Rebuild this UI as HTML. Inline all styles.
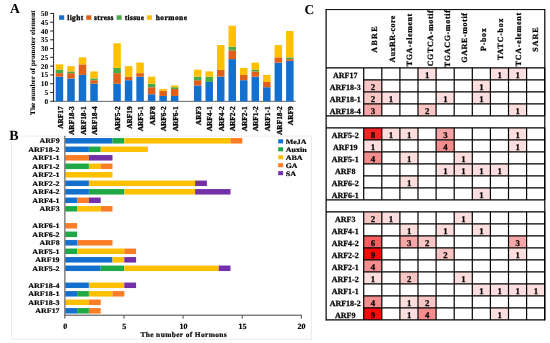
<!DOCTYPE html>
<html><head><meta charset="utf-8"><style>
html,body{margin:0;padding:0;background:#fff;}
body{width:550px;height:343px;overflow:hidden;}
svg{display:block;font-family:"Liberation Serif", serif;font-weight:bold;filter:blur(0.3px);} text{stroke:#000;stroke-width:0.2px;text-rendering:geometricPrecision;} .ns{stroke:none;} .lt{stroke-width:0.06px;} .hv{stroke-width:0.3px;} .ts{stroke-width:0.25px;}
</style></head><body>
<svg width="550" height="343" viewBox="0 0 550 343">
<text x="9.90" y="12.90" font-size="13.6" text-anchor="start" class="ns" fill="#000">A</text>
<text transform="translate(35.00,62.70) rotate(-90)" font-size="7.0" text-anchor="middle" textLength="104.60" lengthAdjust="spacingAndGlyphs" class="lt" fill="#000">The number of promoter element</text>
<line x1="53.60" y1="13.00" x2="53.60" y2="101.75" stroke="#222" stroke-width="1"/>
<line x1="53.10" y1="101.35" x2="295.70" y2="101.35" stroke="#555" stroke-width="0.9"/>
<line x1="50.20" y1="101.25" x2="53.60" y2="101.25" stroke="#222" stroke-width="1"/>
<text x="48.10" y="103.75" font-size="7.4" text-anchor="end" class="lt" fill="#000">0</text>
<line x1="50.20" y1="92.47" x2="53.60" y2="92.47" stroke="#222" stroke-width="1"/>
<text x="48.10" y="94.97" font-size="7.4" text-anchor="end" class="lt" fill="#000">5</text>
<line x1="50.20" y1="83.69" x2="53.60" y2="83.69" stroke="#222" stroke-width="1"/>
<text x="48.10" y="86.19" font-size="7.4" text-anchor="end" class="lt" fill="#000">10</text>
<line x1="50.20" y1="74.91" x2="53.60" y2="74.91" stroke="#222" stroke-width="1"/>
<text x="48.10" y="77.41" font-size="7.4" text-anchor="end" class="lt" fill="#000">15</text>
<line x1="50.20" y1="66.13" x2="53.60" y2="66.13" stroke="#222" stroke-width="1"/>
<text x="48.10" y="68.63" font-size="7.4" text-anchor="end" class="lt" fill="#000">20</text>
<line x1="50.20" y1="57.35" x2="53.60" y2="57.35" stroke="#222" stroke-width="1"/>
<text x="48.10" y="59.85" font-size="7.4" text-anchor="end" class="lt" fill="#000">25</text>
<line x1="50.20" y1="48.57" x2="53.60" y2="48.57" stroke="#222" stroke-width="1"/>
<text x="48.10" y="51.07" font-size="7.4" text-anchor="end" class="lt" fill="#000">30</text>
<line x1="50.20" y1="39.79" x2="53.60" y2="39.79" stroke="#222" stroke-width="1"/>
<text x="48.10" y="42.29" font-size="7.4" text-anchor="end" class="lt" fill="#000">35</text>
<line x1="50.20" y1="31.01" x2="53.60" y2="31.01" stroke="#222" stroke-width="1"/>
<text x="48.10" y="33.51" font-size="7.4" text-anchor="end" class="lt" fill="#000">40</text>
<line x1="50.20" y1="22.23" x2="53.60" y2="22.23" stroke="#222" stroke-width="1"/>
<text x="48.10" y="24.73" font-size="7.4" text-anchor="end" class="lt" fill="#000">45</text>
<line x1="50.20" y1="13.45" x2="53.60" y2="13.45" stroke="#222" stroke-width="1"/>
<text x="48.10" y="15.95" font-size="7.4" text-anchor="end" class="lt" fill="#000">50</text>
<rect x="55.70" y="76.67" width="7.50" height="24.58" fill="#1370cf"/>
<rect x="55.70" y="73.15" width="7.50" height="3.51" fill="#e0601a"/>
<rect x="55.70" y="69.64" width="7.50" height="3.51" fill="#4aaa48"/>
<rect x="55.70" y="64.37" width="7.50" height="5.27" fill="#ffc000"/>
<text transform="translate(62.65,106.40) rotate(-90)" font-size="7.6" text-anchor="end" textLength="22.46" lengthAdjust="spacingAndGlyphs" class="hv" fill="#000">ARF17</text>
<rect x="67.22" y="78.42" width="7.50" height="22.83" fill="#1370cf"/>
<rect x="67.22" y="73.15" width="7.50" height="5.27" fill="#e0601a"/>
<rect x="67.22" y="71.40" width="7.50" height="1.76" fill="#4aaa48"/>
<rect x="67.22" y="66.13" width="7.50" height="5.27" fill="#ffc000"/>
<text transform="translate(74.17,106.40) rotate(-90)" font-size="7.6" text-anchor="end" textLength="28.58" lengthAdjust="spacingAndGlyphs" class="hv" fill="#000">ARF18-3</text>
<rect x="78.74" y="74.91" width="7.50" height="26.34" fill="#1370cf"/>
<rect x="78.74" y="64.37" width="7.50" height="10.54" fill="#e0601a"/>
<rect x="78.74" y="57.35" width="7.50" height="7.02" fill="#ffc000"/>
<text transform="translate(85.69,106.40) rotate(-90)" font-size="7.6" text-anchor="end" textLength="28.58" lengthAdjust="spacingAndGlyphs" class="hv" fill="#000">ARF18-1</text>
<rect x="90.26" y="83.69" width="7.50" height="17.56" fill="#1370cf"/>
<rect x="90.26" y="80.18" width="7.50" height="3.51" fill="#e0601a"/>
<rect x="90.26" y="78.42" width="7.50" height="1.76" fill="#4aaa48"/>
<rect x="90.26" y="71.40" width="7.50" height="7.02" fill="#ffc000"/>
<text transform="translate(97.21,106.40) rotate(-90)" font-size="7.6" text-anchor="end" textLength="28.58" lengthAdjust="spacingAndGlyphs" class="hv" fill="#000">ARF18-4</text>
<rect x="113.30" y="83.69" width="7.50" height="17.56" fill="#1370cf"/>
<rect x="113.30" y="73.15" width="7.50" height="10.54" fill="#e0601a"/>
<rect x="113.30" y="67.89" width="7.50" height="5.27" fill="#4aaa48"/>
<rect x="113.30" y="43.30" width="7.50" height="24.58" fill="#ffc000"/>
<text transform="translate(120.25,106.40) rotate(-90)" font-size="7.6" text-anchor="end" textLength="24.90" lengthAdjust="spacingAndGlyphs" class="hv" fill="#000">ARF5-2</text>
<rect x="124.82" y="80.18" width="7.50" height="21.07" fill="#1370cf"/>
<rect x="124.82" y="76.67" width="7.50" height="3.51" fill="#e0601a"/>
<rect x="124.82" y="66.13" width="7.50" height="10.54" fill="#ffc000"/>
<text transform="translate(131.77,106.40) rotate(-90)" font-size="7.6" text-anchor="end" textLength="22.46" lengthAdjust="spacingAndGlyphs" class="hv" fill="#000">ARF19</text>
<rect x="136.34" y="76.67" width="7.50" height="24.58" fill="#1370cf"/>
<rect x="136.34" y="73.15" width="7.50" height="3.51" fill="#e0601a"/>
<rect x="136.34" y="62.62" width="7.50" height="10.54" fill="#ffc000"/>
<text transform="translate(143.29,106.40) rotate(-90)" font-size="7.6" text-anchor="end" textLength="24.90" lengthAdjust="spacingAndGlyphs" class="hv" fill="#000">ARF5-1</text>
<rect x="147.86" y="94.23" width="7.50" height="7.02" fill="#1370cf"/>
<rect x="147.86" y="87.20" width="7.50" height="7.02" fill="#e0601a"/>
<rect x="147.86" y="83.69" width="7.50" height="3.51" fill="#4aaa48"/>
<rect x="147.86" y="76.67" width="7.50" height="7.02" fill="#ffc000"/>
<text transform="translate(154.81,106.40) rotate(-90)" font-size="7.6" text-anchor="end" textLength="18.78" lengthAdjust="spacingAndGlyphs" class="hv" fill="#000">ARF8</text>
<rect x="159.38" y="95.98" width="7.50" height="5.27" fill="#1370cf"/>
<rect x="159.38" y="90.71" width="7.50" height="5.27" fill="#e0601a"/>
<rect x="159.38" y="88.96" width="7.50" height="1.76" fill="#ffc000"/>
<text transform="translate(166.33,106.40) rotate(-90)" font-size="7.6" text-anchor="end" textLength="24.90" lengthAdjust="spacingAndGlyphs" class="hv" fill="#000">ARF6-2</text>
<rect x="170.90" y="95.98" width="7.50" height="5.27" fill="#1370cf"/>
<rect x="170.90" y="88.96" width="7.50" height="7.02" fill="#e0601a"/>
<rect x="170.90" y="87.20" width="7.50" height="1.76" fill="#4aaa48"/>
<rect x="170.90" y="85.45" width="7.50" height="1.76" fill="#ffc000"/>
<text transform="translate(177.85,106.40) rotate(-90)" font-size="7.6" text-anchor="end" textLength="24.90" lengthAdjust="spacingAndGlyphs" class="hv" fill="#000">ARF6-1</text>
<rect x="193.94" y="85.45" width="7.50" height="15.80" fill="#1370cf"/>
<rect x="193.94" y="80.18" width="7.50" height="5.27" fill="#e0601a"/>
<rect x="193.94" y="76.67" width="7.50" height="3.51" fill="#4aaa48"/>
<rect x="193.94" y="69.64" width="7.50" height="7.02" fill="#ffc000"/>
<text transform="translate(200.89,106.40) rotate(-90)" font-size="7.6" text-anchor="end" textLength="18.78" lengthAdjust="spacingAndGlyphs" class="hv" fill="#000">ARF3</text>
<rect x="205.46" y="81.93" width="7.50" height="19.32" fill="#1370cf"/>
<rect x="205.46" y="76.67" width="7.50" height="5.27" fill="#4aaa48"/>
<rect x="205.46" y="71.40" width="7.50" height="5.27" fill="#ffc000"/>
<text transform="translate(212.41,106.40) rotate(-90)" font-size="7.6" text-anchor="end" textLength="24.90" lengthAdjust="spacingAndGlyphs" class="hv" fill="#000">ARF4-1</text>
<rect x="216.98" y="76.67" width="7.50" height="24.58" fill="#1370cf"/>
<rect x="216.98" y="69.64" width="7.50" height="7.02" fill="#e0601a"/>
<rect x="216.98" y="45.06" width="7.50" height="24.58" fill="#ffc000"/>
<text transform="translate(223.93,106.40) rotate(-90)" font-size="7.6" text-anchor="end" textLength="24.90" lengthAdjust="spacingAndGlyphs" class="hv" fill="#000">ARF4-2</text>
<rect x="228.50" y="59.11" width="7.50" height="42.14" fill="#1370cf"/>
<rect x="228.50" y="50.33" width="7.50" height="8.78" fill="#e0601a"/>
<rect x="228.50" y="46.81" width="7.50" height="3.51" fill="#4aaa48"/>
<rect x="228.50" y="25.74" width="7.50" height="21.07" fill="#ffc000"/>
<text transform="translate(235.45,106.40) rotate(-90)" font-size="7.6" text-anchor="end" textLength="24.90" lengthAdjust="spacingAndGlyphs" class="hv" fill="#000">ARF2-2</text>
<rect x="240.02" y="80.18" width="7.50" height="21.07" fill="#1370cf"/>
<rect x="240.02" y="74.91" width="7.50" height="5.27" fill="#e0601a"/>
<rect x="240.02" y="67.89" width="7.50" height="7.02" fill="#ffc000"/>
<text transform="translate(246.97,106.40) rotate(-90)" font-size="7.6" text-anchor="end" textLength="24.90" lengthAdjust="spacingAndGlyphs" class="hv" fill="#000">ARF2-1</text>
<rect x="251.54" y="76.67" width="7.50" height="24.58" fill="#1370cf"/>
<rect x="251.54" y="71.40" width="7.50" height="5.27" fill="#e0601a"/>
<rect x="251.54" y="69.64" width="7.50" height="1.76" fill="#4aaa48"/>
<rect x="251.54" y="62.62" width="7.50" height="7.02" fill="#ffc000"/>
<text transform="translate(258.49,106.40) rotate(-90)" font-size="7.6" text-anchor="end" textLength="24.90" lengthAdjust="spacingAndGlyphs" class="hv" fill="#000">ARF1-2</text>
<rect x="263.06" y="87.20" width="7.50" height="14.05" fill="#1370cf"/>
<rect x="263.06" y="81.93" width="7.50" height="5.27" fill="#e0601a"/>
<rect x="263.06" y="74.91" width="7.50" height="7.02" fill="#ffc000"/>
<text transform="translate(270.01,106.40) rotate(-90)" font-size="7.6" text-anchor="end" textLength="24.90" lengthAdjust="spacingAndGlyphs" class="hv" fill="#000">ARF1-1</text>
<rect x="274.58" y="62.62" width="7.50" height="38.63" fill="#1370cf"/>
<rect x="274.58" y="57.35" width="7.50" height="5.27" fill="#e0601a"/>
<rect x="274.58" y="45.06" width="7.50" height="12.29" fill="#ffc000"/>
<text transform="translate(281.53,106.40) rotate(-90)" font-size="7.6" text-anchor="end" textLength="28.58" lengthAdjust="spacingAndGlyphs" class="hv" fill="#000">ARF18-2</text>
<rect x="286.10" y="60.86" width="7.50" height="40.39" fill="#1370cf"/>
<rect x="286.10" y="59.11" width="7.50" height="1.76" fill="#e0601a"/>
<rect x="286.10" y="57.35" width="7.50" height="1.76" fill="#4aaa48"/>
<rect x="286.10" y="31.01" width="7.50" height="26.34" fill="#ffc000"/>
<text transform="translate(293.05,106.40) rotate(-90)" font-size="7.6" text-anchor="end" textLength="18.78" lengthAdjust="spacingAndGlyphs" class="hv" fill="#000">ARF9</text>
<rect x="59.10" y="15.30" width="5.10" height="4.50" fill="#1370cf"/>
<text x="67.20" y="20.40" font-size="7.4" text-anchor="start" textLength="16.00" lengthAdjust="spacing" class="hv" fill="#000">light</text>
<rect x="86.20" y="15.30" width="5.10" height="4.50" fill="#e0601a"/>
<text x="94.10" y="20.40" font-size="7.4" text-anchor="start" textLength="19.40" lengthAdjust="spacing" class="hv" fill="#000">stress</text>
<rect x="116.60" y="15.30" width="5.10" height="4.50" fill="#4aaa48"/>
<text x="124.70" y="20.40" font-size="7.4" text-anchor="start" textLength="19.40" lengthAdjust="spacing" class="hv" fill="#000">tissue</text>
<rect x="146.90" y="15.30" width="5.10" height="4.50" fill="#ffc000"/>
<text x="155.70" y="20.40" font-size="7.4" text-anchor="start" textLength="31.30" lengthAdjust="spacing" class="hv" fill="#000">hormone</text>
<rect x="11.5" y="136.1" width="300" height="203.2" fill="none" stroke="#ececec" stroke-width="1"/>
<rect x="8.50" y="129.50" width="11.00" height="11.50" fill="#fff"/>
<text x="9.30" y="140.00" font-size="14" text-anchor="start" class="ns" fill="#000">B</text>
<rect x="65.30" y="138.05" width="47.20" height="5.50" fill="#1370cf"/>
<rect x="112.50" y="138.05" width="11.80" height="5.50" fill="#1fa846"/>
<rect x="124.30" y="138.05" width="106.20" height="5.50" fill="#ffc000"/>
<rect x="230.50" y="138.05" width="11.80" height="5.50" fill="#fd7d26"/>
<text x="59.60" y="143.40" font-size="7.0" text-anchor="end" textLength="20.15" lengthAdjust="spacingAndGlyphs" fill="#000">ARF9</text>
<rect x="65.30" y="146.55" width="23.60" height="5.50" fill="#1370cf"/>
<rect x="88.90" y="146.55" width="11.80" height="5.50" fill="#1fa846"/>
<rect x="100.70" y="146.55" width="47.20" height="5.50" fill="#ffc000"/>
<text x="59.60" y="151.90" font-size="7.0" text-anchor="end" textLength="31.38" lengthAdjust="spacingAndGlyphs" fill="#000">ARF18-2</text>
<rect x="65.30" y="155.05" width="23.60" height="5.50" fill="#fd7d26"/>
<rect x="88.90" y="155.05" width="23.60" height="5.50" fill="#7430a8"/>
<text x="59.60" y="160.40" font-size="7.0" text-anchor="end" textLength="27.23" lengthAdjust="spacingAndGlyphs" fill="#000">ARF1-1</text>
<rect x="65.30" y="163.55" width="23.60" height="5.50" fill="#1fa846"/>
<rect x="88.90" y="163.55" width="11.80" height="5.50" fill="#ffc000"/>
<rect x="100.70" y="163.55" width="11.80" height="5.50" fill="#fd7d26"/>
<text x="59.60" y="168.90" font-size="7.0" text-anchor="end" textLength="27.23" lengthAdjust="spacingAndGlyphs" fill="#000">ARF1-2</text>
<rect x="65.30" y="172.05" width="47.20" height="5.50" fill="#ffc000"/>
<text x="59.60" y="177.40" font-size="7.0" text-anchor="end" textLength="27.23" lengthAdjust="spacingAndGlyphs" fill="#000">ARF2-1</text>
<rect x="65.30" y="180.55" width="23.60" height="5.50" fill="#1370cf"/>
<rect x="88.90" y="180.55" width="106.20" height="5.50" fill="#ffc000"/>
<rect x="195.10" y="180.55" width="11.80" height="5.50" fill="#7430a8"/>
<text x="59.60" y="185.90" font-size="7.0" text-anchor="end" textLength="27.23" lengthAdjust="spacingAndGlyphs" fill="#000">ARF2-2</text>
<rect x="65.30" y="189.05" width="23.60" height="5.50" fill="#1370cf"/>
<rect x="88.90" y="189.05" width="35.40" height="5.50" fill="#1fa846"/>
<rect x="124.30" y="189.05" width="70.80" height="5.50" fill="#ffc000"/>
<rect x="195.10" y="189.05" width="35.40" height="5.50" fill="#7430a8"/>
<text x="59.60" y="194.40" font-size="7.0" text-anchor="end" textLength="27.23" lengthAdjust="spacingAndGlyphs" fill="#000">ARF4-2</text>
<rect x="65.30" y="197.55" width="11.80" height="5.50" fill="#1370cf"/>
<rect x="77.10" y="197.55" width="11.80" height="5.50" fill="#fd7d26"/>
<rect x="88.90" y="197.55" width="11.80" height="5.50" fill="#7430a8"/>
<text x="59.60" y="202.90" font-size="7.0" text-anchor="end" textLength="27.23" lengthAdjust="spacingAndGlyphs" fill="#000">ARF4-1</text>
<rect x="65.30" y="206.05" width="11.80" height="5.50" fill="#1fa846"/>
<rect x="77.10" y="206.05" width="23.60" height="5.50" fill="#ffc000"/>
<rect x="100.70" y="206.05" width="11.80" height="5.50" fill="#fd7d26"/>
<text x="59.60" y="211.40" font-size="7.0" text-anchor="end" textLength="20.15" lengthAdjust="spacingAndGlyphs" fill="#000">ARF3</text>
<rect x="65.30" y="223.05" width="11.80" height="5.50" fill="#fd7d26"/>
<text x="59.60" y="228.40" font-size="7.0" text-anchor="end" textLength="27.23" lengthAdjust="spacingAndGlyphs" fill="#000">ARF6-1</text>
<rect x="65.30" y="231.55" width="11.80" height="5.50" fill="#1fa846"/>
<text x="59.60" y="236.90" font-size="7.0" text-anchor="end" textLength="27.23" lengthAdjust="spacingAndGlyphs" fill="#000">ARF6-2</text>
<rect x="65.30" y="240.05" width="11.80" height="5.50" fill="#1370cf"/>
<rect x="77.10" y="240.05" width="35.40" height="5.50" fill="#fd7d26"/>
<text x="59.60" y="245.40" font-size="7.0" text-anchor="end" textLength="20.15" lengthAdjust="spacingAndGlyphs" fill="#000">ARF8</text>
<rect x="65.30" y="248.55" width="11.80" height="5.50" fill="#1fa846"/>
<rect x="77.10" y="248.55" width="47.20" height="5.50" fill="#ffc000"/>
<rect x="124.30" y="248.55" width="11.80" height="5.50" fill="#fd7d26"/>
<text x="59.60" y="253.90" font-size="7.0" text-anchor="end" textLength="27.23" lengthAdjust="spacingAndGlyphs" fill="#000">ARF5-1</text>
<rect x="65.30" y="257.05" width="47.20" height="5.50" fill="#1370cf"/>
<rect x="112.50" y="257.05" width="11.80" height="5.50" fill="#ffc000"/>
<rect x="124.30" y="257.05" width="11.80" height="5.50" fill="#7430a8"/>
<text x="59.60" y="262.40" font-size="7.0" text-anchor="end" textLength="24.30" lengthAdjust="spacingAndGlyphs" fill="#000">ARF19</text>
<rect x="65.30" y="265.55" width="35.40" height="5.50" fill="#1370cf"/>
<rect x="100.70" y="265.55" width="23.60" height="5.50" fill="#1fa846"/>
<rect x="124.30" y="265.55" width="94.40" height="5.50" fill="#ffc000"/>
<rect x="218.70" y="265.55" width="11.80" height="5.50" fill="#7430a8"/>
<text x="59.60" y="270.90" font-size="7.0" text-anchor="end" textLength="27.23" lengthAdjust="spacingAndGlyphs" fill="#000">ARF5-2</text>
<rect x="65.30" y="282.55" width="23.60" height="5.50" fill="#1370cf"/>
<rect x="88.90" y="282.55" width="35.40" height="5.50" fill="#ffc000"/>
<rect x="124.30" y="282.55" width="11.80" height="5.50" fill="#7430a8"/>
<text x="59.60" y="287.90" font-size="7.0" text-anchor="end" textLength="31.38" lengthAdjust="spacingAndGlyphs" fill="#000">ARF18-4</text>
<rect x="65.30" y="291.05" width="11.80" height="5.50" fill="#1370cf"/>
<rect x="77.10" y="291.05" width="11.80" height="5.50" fill="#1fa846"/>
<rect x="88.90" y="291.05" width="23.60" height="5.50" fill="#ffc000"/>
<rect x="112.50" y="291.05" width="11.80" height="5.50" fill="#fd7d26"/>
<text x="59.60" y="296.40" font-size="7.0" text-anchor="end" textLength="31.38" lengthAdjust="spacingAndGlyphs" fill="#000">ARF18-1</text>
<rect x="65.30" y="299.55" width="23.60" height="5.50" fill="#ffc000"/>
<rect x="88.90" y="299.55" width="11.80" height="5.50" fill="#fd7d26"/>
<text x="59.60" y="304.90" font-size="7.0" text-anchor="end" textLength="31.38" lengthAdjust="spacingAndGlyphs" fill="#000">ARF18-3</text>
<rect x="65.30" y="308.05" width="11.80" height="5.50" fill="#1370cf"/>
<rect x="77.10" y="308.05" width="11.80" height="5.50" fill="#1fa846"/>
<rect x="88.90" y="308.05" width="11.80" height="5.50" fill="#fd7d26"/>
<text x="59.60" y="313.40" font-size="7.0" text-anchor="end" textLength="24.30" lengthAdjust="spacingAndGlyphs" fill="#000">ARF17</text>
<line x1="64.90" y1="135.90" x2="64.90" y2="315.40" stroke="#444" stroke-width="1"/>
<line x1="64.40" y1="315.20" x2="301.80" y2="315.20" stroke="#444" stroke-width="1"/>
<line x1="64.90" y1="315.40" x2="64.90" y2="318.60" stroke="#444" stroke-width="1"/>
<text x="65.20" y="328.80" font-size="8.0" text-anchor="middle" fill="#000">0</text>
<line x1="124.00" y1="315.40" x2="124.00" y2="318.60" stroke="#444" stroke-width="1"/>
<text x="124.30" y="328.80" font-size="8.0" text-anchor="middle" fill="#000">5</text>
<line x1="183.10" y1="315.40" x2="183.10" y2="318.60" stroke="#444" stroke-width="1"/>
<text x="183.40" y="328.80" font-size="8.0" text-anchor="middle" fill="#000">10</text>
<line x1="242.20" y1="315.40" x2="242.20" y2="318.60" stroke="#444" stroke-width="1"/>
<text x="242.50" y="328.80" font-size="8.0" text-anchor="middle" fill="#000">15</text>
<line x1="301.30" y1="315.40" x2="301.30" y2="318.60" stroke="#444" stroke-width="1"/>
<text x="301.60" y="328.80" font-size="8.0" text-anchor="middle" fill="#000">20</text>
<text x="140.40" y="337.00" font-size="7.4" text-anchor="start" textLength="86.30" lengthAdjust="spacing" fill="#000">The number of Hormons</text>
<rect x="278.20" y="139.30" width="4.90" height="4.10" fill="#1370cf"/>
<text x="285.70" y="143.80" font-size="6.9" text-anchor="start" textLength="20.80" lengthAdjust="spacingAndGlyphs" fill="#000">MeJA</text>
<rect x="278.20" y="147.25" width="4.90" height="4.10" fill="#1fa846"/>
<text x="285.70" y="151.75" font-size="6.9" text-anchor="start" textLength="21.00" lengthAdjust="spacingAndGlyphs" fill="#000">Auxin</text>
<rect x="278.20" y="155.20" width="4.90" height="4.10" fill="#ffc000"/>
<text x="285.70" y="159.70" font-size="6.9" text-anchor="start" textLength="17.00" lengthAdjust="spacingAndGlyphs" fill="#000">ABA</text>
<rect x="278.20" y="163.15" width="4.90" height="4.10" fill="#fd7d26"/>
<text x="285.70" y="167.65" font-size="6.9" text-anchor="start" textLength="11.80" lengthAdjust="spacingAndGlyphs" fill="#000">GA</text>
<rect x="278.20" y="171.10" width="4.90" height="4.10" fill="#7430a8"/>
<text x="285.70" y="175.60" font-size="6.9" text-anchor="start" textLength="10.30" lengthAdjust="spacingAndGlyphs" fill="#000">SA</text>
<text x="304.50" y="14.00" font-size="13.5" text-anchor="start" class="ns" fill="#000">C</text>
<text transform="translate(377.10,39.60) rotate(-90)" font-size="8.0" text-anchor="middle" textLength="26.20" lengthAdjust="spacing" class="ts" fill="#000">ABRE</text>
<text transform="translate(394.90,39.10) rotate(-90)" font-size="8.0" text-anchor="middle" textLength="47.00" lengthAdjust="spacing" class="ts" fill="#000">AuxRR-core</text>
<text transform="translate(412.40,40.00) rotate(-90)" font-size="8.0" text-anchor="middle" textLength="52.50" lengthAdjust="spacing" class="ts" fill="#000">TGA-element</text>
<text transform="translate(432.70,38.30) rotate(-90)" font-size="8.0" text-anchor="middle" textLength="56.00" lengthAdjust="spacing" class="ts" fill="#000">CGTCA-motif</text>
<text transform="translate(449.80,38.70) rotate(-90)" font-size="8.0" text-anchor="middle" textLength="57.00" lengthAdjust="spacing" class="ts" fill="#000">TGACG-motif</text>
<text transform="translate(467.00,37.80) rotate(-90)" font-size="8.0" text-anchor="middle" textLength="49.70" lengthAdjust="spacing" class="ts" fill="#000">GARE-motif</text>
<text transform="translate(486.00,39.60) rotate(-90)" font-size="8.0" text-anchor="middle" textLength="22.60" lengthAdjust="spacing" class="ts" fill="#000">P-box</text>
<text transform="translate(503.10,39.15) rotate(-90)" font-size="8.0" text-anchor="middle" textLength="41.50" lengthAdjust="spacing" class="ts" fill="#000">TATC-box</text>
<text transform="translate(521.20,39.60) rotate(-90)" font-size="8.0" text-anchor="middle" textLength="53.40" lengthAdjust="spacing" class="ts" fill="#000">TCA-element</text>
<text transform="translate(538.40,39.60) rotate(-90)" font-size="8.0" text-anchor="middle" textLength="24.40" lengthAdjust="spacing" class="ts" fill="#000">SARE</text>
<rect x="418.00" y="67.85" width="18.10" height="12.00" fill="#fcdede"/>
<text x="427.25" y="77.95" font-size="8.8" text-anchor="middle" class="ts" fill="#000">1</text>
<rect x="490.40" y="67.85" width="18.10" height="12.00" fill="#fcdede"/>
<text x="499.65" y="77.95" font-size="8.8" text-anchor="middle" class="ts" fill="#000">1</text>
<rect x="508.50" y="67.85" width="18.10" height="12.00" fill="#fcdede"/>
<text x="517.75" y="77.95" font-size="8.8" text-anchor="middle" class="ts" fill="#000">1</text>
<text x="345.20" y="77.65" font-size="8.0" text-anchor="middle" class="ts" fill="#000">ARF17</text>
<rect x="363.70" y="79.85" width="18.10" height="12.00" fill="#f9c6c6"/>
<text x="372.95" y="89.95" font-size="8.8" text-anchor="middle" class="ts" fill="#000">2</text>
<rect x="472.30" y="79.85" width="18.10" height="12.00" fill="#fcdede"/>
<text x="481.55" y="89.95" font-size="8.8" text-anchor="middle" class="ts" fill="#000">1</text>
<text x="345.20" y="89.65" font-size="8.0" text-anchor="middle" class="ts" fill="#000">ARF18-3</text>
<rect x="363.70" y="91.85" width="18.10" height="12.00" fill="#f9c6c6"/>
<text x="372.95" y="101.95" font-size="8.8" text-anchor="middle" class="ts" fill="#000">2</text>
<rect x="381.80" y="91.85" width="18.10" height="12.00" fill="#fcdede"/>
<text x="391.05" y="101.95" font-size="8.8" text-anchor="middle" class="ts" fill="#000">1</text>
<rect x="436.10" y="91.85" width="18.10" height="12.00" fill="#fcdede"/>
<text x="445.35" y="101.95" font-size="8.8" text-anchor="middle" class="ts" fill="#000">1</text>
<rect x="472.30" y="91.85" width="18.10" height="12.00" fill="#fcdede"/>
<text x="481.55" y="101.95" font-size="8.8" text-anchor="middle" class="ts" fill="#000">1</text>
<text x="345.20" y="101.65" font-size="8.0" text-anchor="middle" class="ts" fill="#000">ARF18-1</text>
<rect x="363.70" y="103.85" width="18.10" height="12.00" fill="#f6a6a6"/>
<text x="372.95" y="113.95" font-size="8.8" text-anchor="middle" class="ts" fill="#000">3</text>
<rect x="418.00" y="103.85" width="18.10" height="12.00" fill="#f9c6c6"/>
<text x="427.25" y="113.95" font-size="8.8" text-anchor="middle" class="ts" fill="#000">2</text>
<rect x="508.50" y="103.85" width="18.10" height="12.00" fill="#fcdede"/>
<text x="517.75" y="113.95" font-size="8.8" text-anchor="middle" class="ts" fill="#000">1</text>
<text x="345.20" y="113.65" font-size="8.0" text-anchor="middle" class="ts" fill="#000">ARF18-4</text>
<line x1="363.70" y1="67.85" x2="544.80" y2="67.85" stroke="#000" stroke-width="1.3"/>
<line x1="363.70" y1="79.85" x2="544.80" y2="79.85" stroke="#000" stroke-width="1.3"/>
<line x1="363.70" y1="91.85" x2="544.80" y2="91.85" stroke="#000" stroke-width="1.3"/>
<line x1="363.70" y1="103.85" x2="544.80" y2="103.85" stroke="#000" stroke-width="1.3"/>
<line x1="363.70" y1="115.85" x2="544.80" y2="115.85" stroke="#000" stroke-width="1.3"/>
<line x1="363.70" y1="67.85" x2="363.70" y2="115.85" stroke="#000" stroke-width="1.2"/>
<line x1="381.80" y1="67.85" x2="381.80" y2="115.85" stroke="#000" stroke-width="1.2"/>
<line x1="399.90" y1="67.85" x2="399.90" y2="115.85" stroke="#000" stroke-width="1.2"/>
<line x1="418.00" y1="67.85" x2="418.00" y2="115.85" stroke="#000" stroke-width="1.2"/>
<line x1="436.10" y1="67.85" x2="436.10" y2="115.85" stroke="#000" stroke-width="1.2"/>
<line x1="454.20" y1="67.85" x2="454.20" y2="115.85" stroke="#000" stroke-width="1.2"/>
<line x1="472.30" y1="67.85" x2="472.30" y2="115.85" stroke="#000" stroke-width="1.2"/>
<line x1="490.40" y1="67.85" x2="490.40" y2="115.85" stroke="#000" stroke-width="1.2"/>
<line x1="508.50" y1="67.85" x2="508.50" y2="115.85" stroke="#000" stroke-width="1.2"/>
<line x1="526.60" y1="67.85" x2="526.60" y2="115.85" stroke="#000" stroke-width="1.2"/>
<line x1="544.70" y1="67.85" x2="544.70" y2="115.85" stroke="#000" stroke-width="1.2"/>
<line x1="326.10" y1="67.85" x2="363.70" y2="67.85" stroke="#000" stroke-width="1.3"/>
<line x1="326.10" y1="115.85" x2="363.70" y2="115.85" stroke="#000" stroke-width="1.3"/>
<rect x="363.70" y="127.85" width="18.10" height="12.00" fill="#f42424"/>
<text x="372.95" y="137.95" font-size="8.8" text-anchor="middle" class="ts" fill="#000">8</text>
<rect x="381.80" y="127.85" width="18.10" height="12.00" fill="#fcdede"/>
<text x="391.05" y="137.95" font-size="8.8" text-anchor="middle" class="ts" fill="#000">1</text>
<rect x="399.90" y="127.85" width="18.10" height="12.00" fill="#fcdede"/>
<text x="409.15" y="137.95" font-size="8.8" text-anchor="middle" class="ts" fill="#000">1</text>
<rect x="436.10" y="127.85" width="18.10" height="12.00" fill="#f6a6a6"/>
<text x="445.35" y="137.95" font-size="8.8" text-anchor="middle" class="ts" fill="#000">3</text>
<rect x="508.50" y="127.85" width="18.10" height="12.00" fill="#fcdede"/>
<text x="517.75" y="137.95" font-size="8.8" text-anchor="middle" class="ts" fill="#000">1</text>
<text x="345.20" y="137.65" font-size="8.0" text-anchor="middle" class="ts" fill="#000">ARF5-2</text>
<rect x="363.70" y="139.85" width="18.10" height="12.00" fill="#fcdede"/>
<text x="372.95" y="149.95" font-size="8.8" text-anchor="middle" class="ts" fill="#000">1</text>
<rect x="436.10" y="139.85" width="18.10" height="12.00" fill="#f48e8e"/>
<text x="445.35" y="149.95" font-size="8.8" text-anchor="middle" class="ts" fill="#000">4</text>
<rect x="508.50" y="139.85" width="18.10" height="12.00" fill="#fcdede"/>
<text x="517.75" y="149.95" font-size="8.8" text-anchor="middle" class="ts" fill="#000">1</text>
<text x="345.20" y="149.65" font-size="8.0" text-anchor="middle" class="ts" fill="#000">ARF19</text>
<rect x="363.70" y="151.85" width="18.10" height="12.00" fill="#f48e8e"/>
<text x="372.95" y="161.95" font-size="8.8" text-anchor="middle" class="ts" fill="#000">4</text>
<rect x="399.90" y="151.85" width="18.10" height="12.00" fill="#fcdede"/>
<text x="409.15" y="161.95" font-size="8.8" text-anchor="middle" class="ts" fill="#000">1</text>
<rect x="454.20" y="151.85" width="18.10" height="12.00" fill="#fcdede"/>
<text x="463.45" y="161.95" font-size="8.8" text-anchor="middle" class="ts" fill="#000">1</text>
<text x="345.20" y="161.65" font-size="8.0" text-anchor="middle" class="ts" fill="#000">ARF5-1</text>
<rect x="436.10" y="163.85" width="18.10" height="12.00" fill="#fcdede"/>
<text x="445.35" y="173.95" font-size="8.8" text-anchor="middle" class="ts" fill="#000">1</text>
<rect x="454.20" y="163.85" width="18.10" height="12.00" fill="#fcdede"/>
<text x="463.45" y="173.95" font-size="8.8" text-anchor="middle" class="ts" fill="#000">1</text>
<rect x="472.30" y="163.85" width="18.10" height="12.00" fill="#fcdede"/>
<text x="481.55" y="173.95" font-size="8.8" text-anchor="middle" class="ts" fill="#000">1</text>
<rect x="490.40" y="163.85" width="18.10" height="12.00" fill="#fcdede"/>
<text x="499.65" y="173.95" font-size="8.8" text-anchor="middle" class="ts" fill="#000">1</text>
<text x="345.20" y="173.65" font-size="8.0" text-anchor="middle" class="ts" fill="#000">ARF8</text>
<rect x="399.90" y="175.85" width="18.10" height="12.00" fill="#fcdede"/>
<text x="409.15" y="185.95" font-size="8.8" text-anchor="middle" class="ts" fill="#000">1</text>
<text x="345.20" y="185.65" font-size="8.0" text-anchor="middle" class="ts" fill="#000">ARF6-2</text>
<rect x="472.30" y="187.85" width="18.10" height="12.00" fill="#fcdede"/>
<text x="481.55" y="197.95" font-size="8.8" text-anchor="middle" class="ts" fill="#000">1</text>
<text x="345.20" y="197.65" font-size="8.0" text-anchor="middle" class="ts" fill="#000">ARF6-1</text>
<line x1="363.70" y1="127.85" x2="544.80" y2="127.85" stroke="#000" stroke-width="1.3"/>
<line x1="363.70" y1="139.85" x2="544.80" y2="139.85" stroke="#000" stroke-width="1.3"/>
<line x1="363.70" y1="151.85" x2="544.80" y2="151.85" stroke="#000" stroke-width="1.3"/>
<line x1="363.70" y1="163.85" x2="544.80" y2="163.85" stroke="#000" stroke-width="1.3"/>
<line x1="363.70" y1="175.85" x2="544.80" y2="175.85" stroke="#000" stroke-width="1.3"/>
<line x1="363.70" y1="187.85" x2="544.80" y2="187.85" stroke="#000" stroke-width="1.3"/>
<line x1="363.70" y1="199.85" x2="544.80" y2="199.85" stroke="#000" stroke-width="1.3"/>
<line x1="363.70" y1="127.85" x2="363.70" y2="199.85" stroke="#000" stroke-width="1.2"/>
<line x1="381.80" y1="127.85" x2="381.80" y2="199.85" stroke="#000" stroke-width="1.2"/>
<line x1="399.90" y1="127.85" x2="399.90" y2="199.85" stroke="#000" stroke-width="1.2"/>
<line x1="418.00" y1="127.85" x2="418.00" y2="199.85" stroke="#000" stroke-width="1.2"/>
<line x1="436.10" y1="127.85" x2="436.10" y2="199.85" stroke="#000" stroke-width="1.2"/>
<line x1="454.20" y1="127.85" x2="454.20" y2="199.85" stroke="#000" stroke-width="1.2"/>
<line x1="472.30" y1="127.85" x2="472.30" y2="199.85" stroke="#000" stroke-width="1.2"/>
<line x1="490.40" y1="127.85" x2="490.40" y2="199.85" stroke="#000" stroke-width="1.2"/>
<line x1="508.50" y1="127.85" x2="508.50" y2="199.85" stroke="#000" stroke-width="1.2"/>
<line x1="526.60" y1="127.85" x2="526.60" y2="199.85" stroke="#000" stroke-width="1.2"/>
<line x1="544.70" y1="127.85" x2="544.70" y2="199.85" stroke="#000" stroke-width="1.2"/>
<line x1="326.10" y1="127.85" x2="363.70" y2="127.85" stroke="#000" stroke-width="1.3"/>
<line x1="326.10" y1="199.85" x2="363.70" y2="199.85" stroke="#000" stroke-width="1.3"/>
<rect x="363.70" y="211.85" width="18.10" height="12.00" fill="#f9c6c6"/>
<text x="372.95" y="221.95" font-size="8.8" text-anchor="middle" class="ts" fill="#000">2</text>
<rect x="381.80" y="211.85" width="18.10" height="12.00" fill="#fcdede"/>
<text x="391.05" y="221.95" font-size="8.8" text-anchor="middle" class="ts" fill="#000">1</text>
<rect x="454.20" y="211.85" width="18.10" height="12.00" fill="#fcdede"/>
<text x="463.45" y="221.95" font-size="8.8" text-anchor="middle" class="ts" fill="#000">1</text>
<text x="345.20" y="221.65" font-size="8.0" text-anchor="middle" class="ts" fill="#000">ARF3</text>
<rect x="399.90" y="223.85" width="18.10" height="12.00" fill="#fcdede"/>
<text x="409.15" y="233.95" font-size="8.8" text-anchor="middle" class="ts" fill="#000">1</text>
<rect x="436.10" y="223.85" width="18.10" height="12.00" fill="#fcdede"/>
<text x="445.35" y="233.95" font-size="8.8" text-anchor="middle" class="ts" fill="#000">1</text>
<rect x="472.30" y="223.85" width="18.10" height="12.00" fill="#fcdede"/>
<text x="481.55" y="233.95" font-size="8.8" text-anchor="middle" class="ts" fill="#000">1</text>
<text x="345.20" y="233.65" font-size="8.0" text-anchor="middle" class="ts" fill="#000">ARF4-1</text>
<rect x="363.70" y="235.85" width="18.10" height="12.00" fill="#f76060"/>
<text x="372.95" y="245.95" font-size="8.8" text-anchor="middle" class="ts" fill="#000">6</text>
<rect x="399.90" y="235.85" width="18.10" height="12.00" fill="#f6a6a6"/>
<text x="409.15" y="245.95" font-size="8.8" text-anchor="middle" class="ts" fill="#000">3</text>
<rect x="418.00" y="235.85" width="18.10" height="12.00" fill="#f9c6c6"/>
<text x="427.25" y="245.95" font-size="8.8" text-anchor="middle" class="ts" fill="#000">2</text>
<rect x="508.50" y="235.85" width="18.10" height="12.00" fill="#f6a6a6"/>
<text x="517.75" y="245.95" font-size="8.8" text-anchor="middle" class="ts" fill="#000">3</text>
<text x="345.20" y="245.65" font-size="8.0" text-anchor="middle" class="ts" fill="#000">ARF4-2</text>
<rect x="363.70" y="247.85" width="18.10" height="12.00" fill="#fc0a0a"/>
<text x="372.95" y="257.95" font-size="8.8" text-anchor="middle" class="ts" fill="#000">9</text>
<rect x="436.10" y="247.85" width="18.10" height="12.00" fill="#f9c6c6"/>
<text x="445.35" y="257.95" font-size="8.8" text-anchor="middle" class="ts" fill="#000">2</text>
<rect x="508.50" y="247.85" width="18.10" height="12.00" fill="#fcdede"/>
<text x="517.75" y="257.95" font-size="8.8" text-anchor="middle" class="ts" fill="#000">1</text>
<text x="345.20" y="257.65" font-size="8.0" text-anchor="middle" class="ts" fill="#000">ARF2-2</text>
<rect x="363.70" y="259.85" width="18.10" height="12.00" fill="#f48e8e"/>
<text x="372.95" y="269.95" font-size="8.8" text-anchor="middle" class="ts" fill="#000">4</text>
<text x="345.20" y="269.65" font-size="8.0" text-anchor="middle" class="ts" fill="#000">ARF2-1</text>
<rect x="363.70" y="271.85" width="18.10" height="12.00" fill="#fcdede"/>
<text x="372.95" y="281.95" font-size="8.8" text-anchor="middle" class="ts" fill="#000">1</text>
<rect x="399.90" y="271.85" width="18.10" height="12.00" fill="#f9c6c6"/>
<text x="409.15" y="281.95" font-size="8.8" text-anchor="middle" class="ts" fill="#000">2</text>
<rect x="454.20" y="271.85" width="18.10" height="12.00" fill="#fcdede"/>
<text x="463.45" y="281.95" font-size="8.8" text-anchor="middle" class="ts" fill="#000">1</text>
<text x="345.20" y="281.65" font-size="8.0" text-anchor="middle" class="ts" fill="#000">ARF1-2</text>
<rect x="472.30" y="283.85" width="18.10" height="12.00" fill="#fcdede"/>
<text x="481.55" y="293.95" font-size="8.8" text-anchor="middle" class="ts" fill="#000">1</text>
<rect x="490.40" y="283.85" width="18.10" height="12.00" fill="#fcdede"/>
<text x="499.65" y="293.95" font-size="8.8" text-anchor="middle" class="ts" fill="#000">1</text>
<rect x="508.50" y="283.85" width="18.10" height="12.00" fill="#fcdede"/>
<text x="517.75" y="293.95" font-size="8.8" text-anchor="middle" class="ts" fill="#000">1</text>
<rect x="526.60" y="283.85" width="18.10" height="12.00" fill="#fcdede"/>
<text x="535.85" y="293.95" font-size="8.8" text-anchor="middle" class="ts" fill="#000">1</text>
<text x="345.20" y="293.65" font-size="8.0" text-anchor="middle" class="ts" fill="#000">ARF1-1</text>
<rect x="363.70" y="295.85" width="18.10" height="12.00" fill="#f48e8e"/>
<text x="372.95" y="305.95" font-size="8.8" text-anchor="middle" class="ts" fill="#000">4</text>
<rect x="399.90" y="295.85" width="18.10" height="12.00" fill="#fcdede"/>
<text x="409.15" y="305.95" font-size="8.8" text-anchor="middle" class="ts" fill="#000">1</text>
<rect x="418.00" y="295.85" width="18.10" height="12.00" fill="#f9c6c6"/>
<text x="427.25" y="305.95" font-size="8.8" text-anchor="middle" class="ts" fill="#000">2</text>
<text x="345.20" y="305.65" font-size="8.0" text-anchor="middle" class="ts" fill="#000">ARF18-2</text>
<rect x="363.70" y="307.85" width="18.10" height="12.00" fill="#fc0a0a"/>
<text x="372.95" y="317.95" font-size="8.8" text-anchor="middle" class="ts" fill="#000">9</text>
<rect x="399.90" y="307.85" width="18.10" height="12.00" fill="#fcdede"/>
<text x="409.15" y="317.95" font-size="8.8" text-anchor="middle" class="ts" fill="#000">1</text>
<rect x="418.00" y="307.85" width="18.10" height="12.00" fill="#f48e8e"/>
<text x="427.25" y="317.95" font-size="8.8" text-anchor="middle" class="ts" fill="#000">4</text>
<rect x="490.40" y="307.85" width="18.10" height="12.00" fill="#fcdede"/>
<text x="499.65" y="317.95" font-size="8.8" text-anchor="middle" class="ts" fill="#000">1</text>
<text x="345.20" y="317.65" font-size="8.0" text-anchor="middle" class="ts" fill="#000">ARF9</text>
<line x1="363.70" y1="211.85" x2="544.80" y2="211.85" stroke="#000" stroke-width="1.3"/>
<line x1="363.70" y1="223.85" x2="544.80" y2="223.85" stroke="#000" stroke-width="1.3"/>
<line x1="363.70" y1="235.85" x2="544.80" y2="235.85" stroke="#000" stroke-width="1.3"/>
<line x1="363.70" y1="247.85" x2="544.80" y2="247.85" stroke="#000" stroke-width="1.3"/>
<line x1="363.70" y1="259.85" x2="544.80" y2="259.85" stroke="#000" stroke-width="1.3"/>
<line x1="363.70" y1="271.85" x2="544.80" y2="271.85" stroke="#000" stroke-width="1.3"/>
<line x1="363.70" y1="283.85" x2="544.80" y2="283.85" stroke="#000" stroke-width="1.3"/>
<line x1="363.70" y1="295.85" x2="544.80" y2="295.85" stroke="#000" stroke-width="1.3"/>
<line x1="363.70" y1="307.85" x2="544.80" y2="307.85" stroke="#000" stroke-width="1.3"/>
<line x1="363.70" y1="319.85" x2="544.80" y2="319.85" stroke="#000" stroke-width="1.3"/>
<line x1="363.70" y1="211.85" x2="363.70" y2="319.85" stroke="#000" stroke-width="1.2"/>
<line x1="381.80" y1="211.85" x2="381.80" y2="319.85" stroke="#000" stroke-width="1.2"/>
<line x1="399.90" y1="211.85" x2="399.90" y2="319.85" stroke="#000" stroke-width="1.2"/>
<line x1="418.00" y1="211.85" x2="418.00" y2="319.85" stroke="#000" stroke-width="1.2"/>
<line x1="436.10" y1="211.85" x2="436.10" y2="319.85" stroke="#000" stroke-width="1.2"/>
<line x1="454.20" y1="211.85" x2="454.20" y2="319.85" stroke="#000" stroke-width="1.2"/>
<line x1="472.30" y1="211.85" x2="472.30" y2="319.85" stroke="#000" stroke-width="1.2"/>
<line x1="490.40" y1="211.85" x2="490.40" y2="319.85" stroke="#000" stroke-width="1.2"/>
<line x1="508.50" y1="211.85" x2="508.50" y2="319.85" stroke="#000" stroke-width="1.2"/>
<line x1="526.60" y1="211.85" x2="526.60" y2="319.85" stroke="#000" stroke-width="1.2"/>
<line x1="544.70" y1="211.85" x2="544.70" y2="319.85" stroke="#000" stroke-width="1.2"/>
<line x1="326.10" y1="211.85" x2="363.70" y2="211.85" stroke="#000" stroke-width="1.3"/>
<line x1="326.10" y1="319.85" x2="363.70" y2="319.85" stroke="#000" stroke-width="1.3"/>
<line x1="326.10" y1="9.60" x2="544.80" y2="9.60" stroke="#000" stroke-width="1.0"/>
<line x1="326.10" y1="9.10" x2="326.10" y2="320.45" stroke="#000" stroke-width="1.2"/>
<line x1="544.80" y1="9.10" x2="544.80" y2="320.45" stroke="#000" stroke-width="1.2"/>
</svg>
</body></html>
